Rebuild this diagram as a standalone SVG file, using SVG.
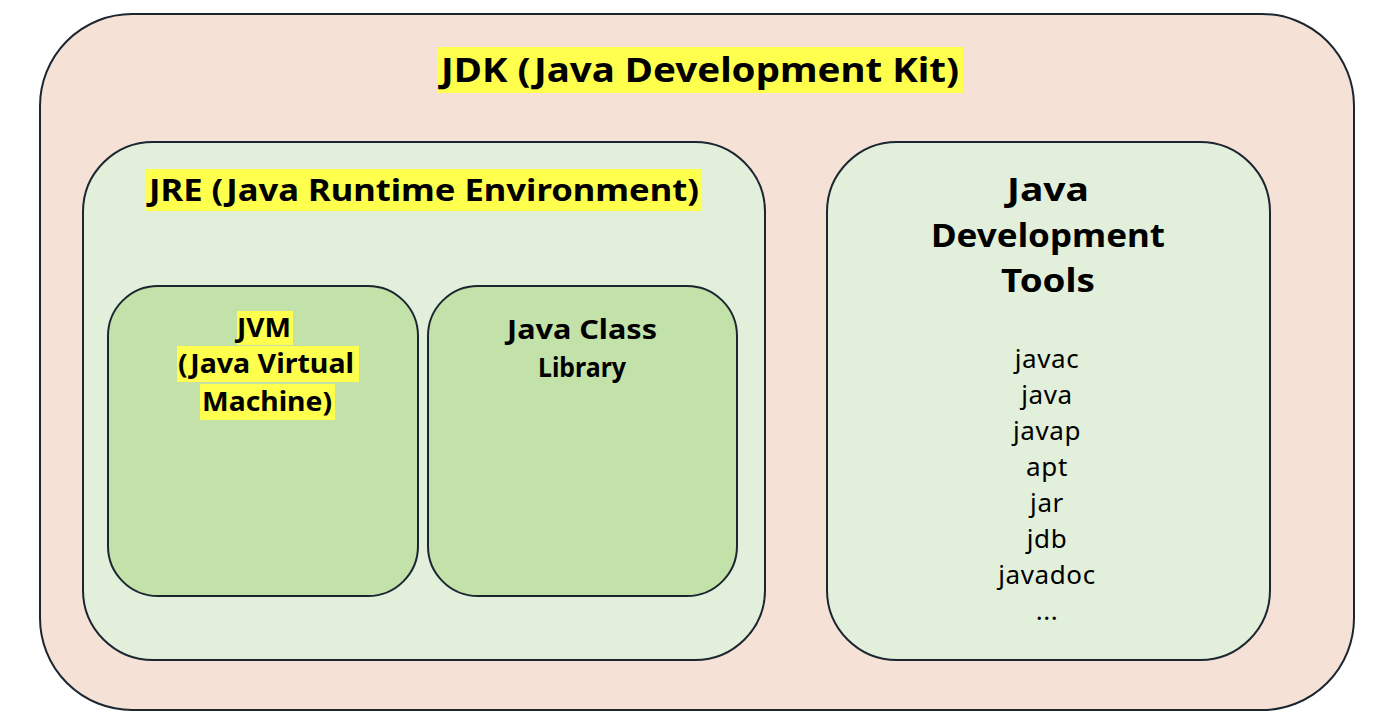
<svg xmlns="http://www.w3.org/2000/svg" width="1398" height="726" viewBox="0 0 1398 726">
<style>
.box{stroke:#1b2631;stroke-width:2}
.t{font-family:"Noto Sans","Liberation Sans",sans-serif;font-weight:bold;fill:#000;text-anchor:middle}
.l{font-family:"Noto Sans","Liberation Sans",sans-serif;font-size:26px;fill:#000;text-anchor:middle;letter-spacing:0.6px}
.hl{fill:#FFFF4D}
</style>
<rect width="1398" height="726" fill="#fff"/>
<g id="jdk">
<rect class="box" x="40" y="14" width="1314" height="696" rx="92" fill="#F5E1D6"/>
<rect class="hl" x="438" y="47" width="525" height="46"/>
<text class="t" x="700" y="82" font-size="34" textLength="518" lengthAdjust="spacingAndGlyphs">JDK (Java Development Kit)</text>
</g>
<g id="jre">
<rect class="box" x="83" y="142" width="682" height="518" rx="70" fill="#E2EFDA"/>
<rect class="hl" x="146" y="169" width="556" height="42"/>
<text class="t" x="424" y="201" font-size="31" textLength="550" lengthAdjust="spacingAndGlyphs">JRE (Java Runtime Environment)</text>
</g>
<g id="jvm">
<rect class="box" x="108" y="286" width="310" height="310" rx="50" fill="#C3E2A9"/>
<rect class="hl" x="237" y="311" width="56" height="34"/>
<rect class="hl" x="177" y="346" width="182" height="36"/>
<rect class="hl" x="200" y="384" width="135" height="36"/>
<text class="t" x="264" y="337" font-size="27" textLength="54" lengthAdjust="spacingAndGlyphs">JVM</text>
<text class="t" x="266" y="373" font-size="27" textLength="176" lengthAdjust="spacingAndGlyphs">(Java Virtual</text>
<text class="t" x="267" y="411" font-size="27" textLength="130" lengthAdjust="spacingAndGlyphs">Machine)</text>
</g>
<g id="classlib">
<rect class="box" x="428" y="286" width="309" height="310" rx="50" fill="#C3E2A9"/>
<text class="t" x="582" y="339" font-size="27" textLength="150" lengthAdjust="spacingAndGlyphs">Java Class</text>
<text class="t" x="582" y="377" font-size="27" textLength="88" lengthAdjust="spacingAndGlyphs">Library</text>
</g>
<g id="tools">
<rect class="box" x="827" y="142" width="443" height="518" rx="70" fill="#E2EFDA"/>
<text class="t" x="1048" y="201" font-size="33" textLength="82" lengthAdjust="spacingAndGlyphs">Java</text>
<text class="t" x="1048" y="247" font-size="33" textLength="234" lengthAdjust="spacingAndGlyphs">Development</text>
<text class="t" x="1048" y="292" font-size="33" textLength="94" lengthAdjust="spacingAndGlyphs">Tools</text>
<text class="l" x="1047" y="368">javac</text>
<text class="l" x="1047" y="404">java</text>
<text class="l" x="1047" y="440">javap</text>
<text class="l" x="1047" y="476">apt</text>
<text class="l" x="1047" y="512">jar</text>
<text class="l" x="1047" y="548">jdb</text>
<text class="l" x="1047" y="584">javadoc</text>
<text class="l" x="1047" y="620">...</text>
</g>
<g id="connectors"/>
</svg>
